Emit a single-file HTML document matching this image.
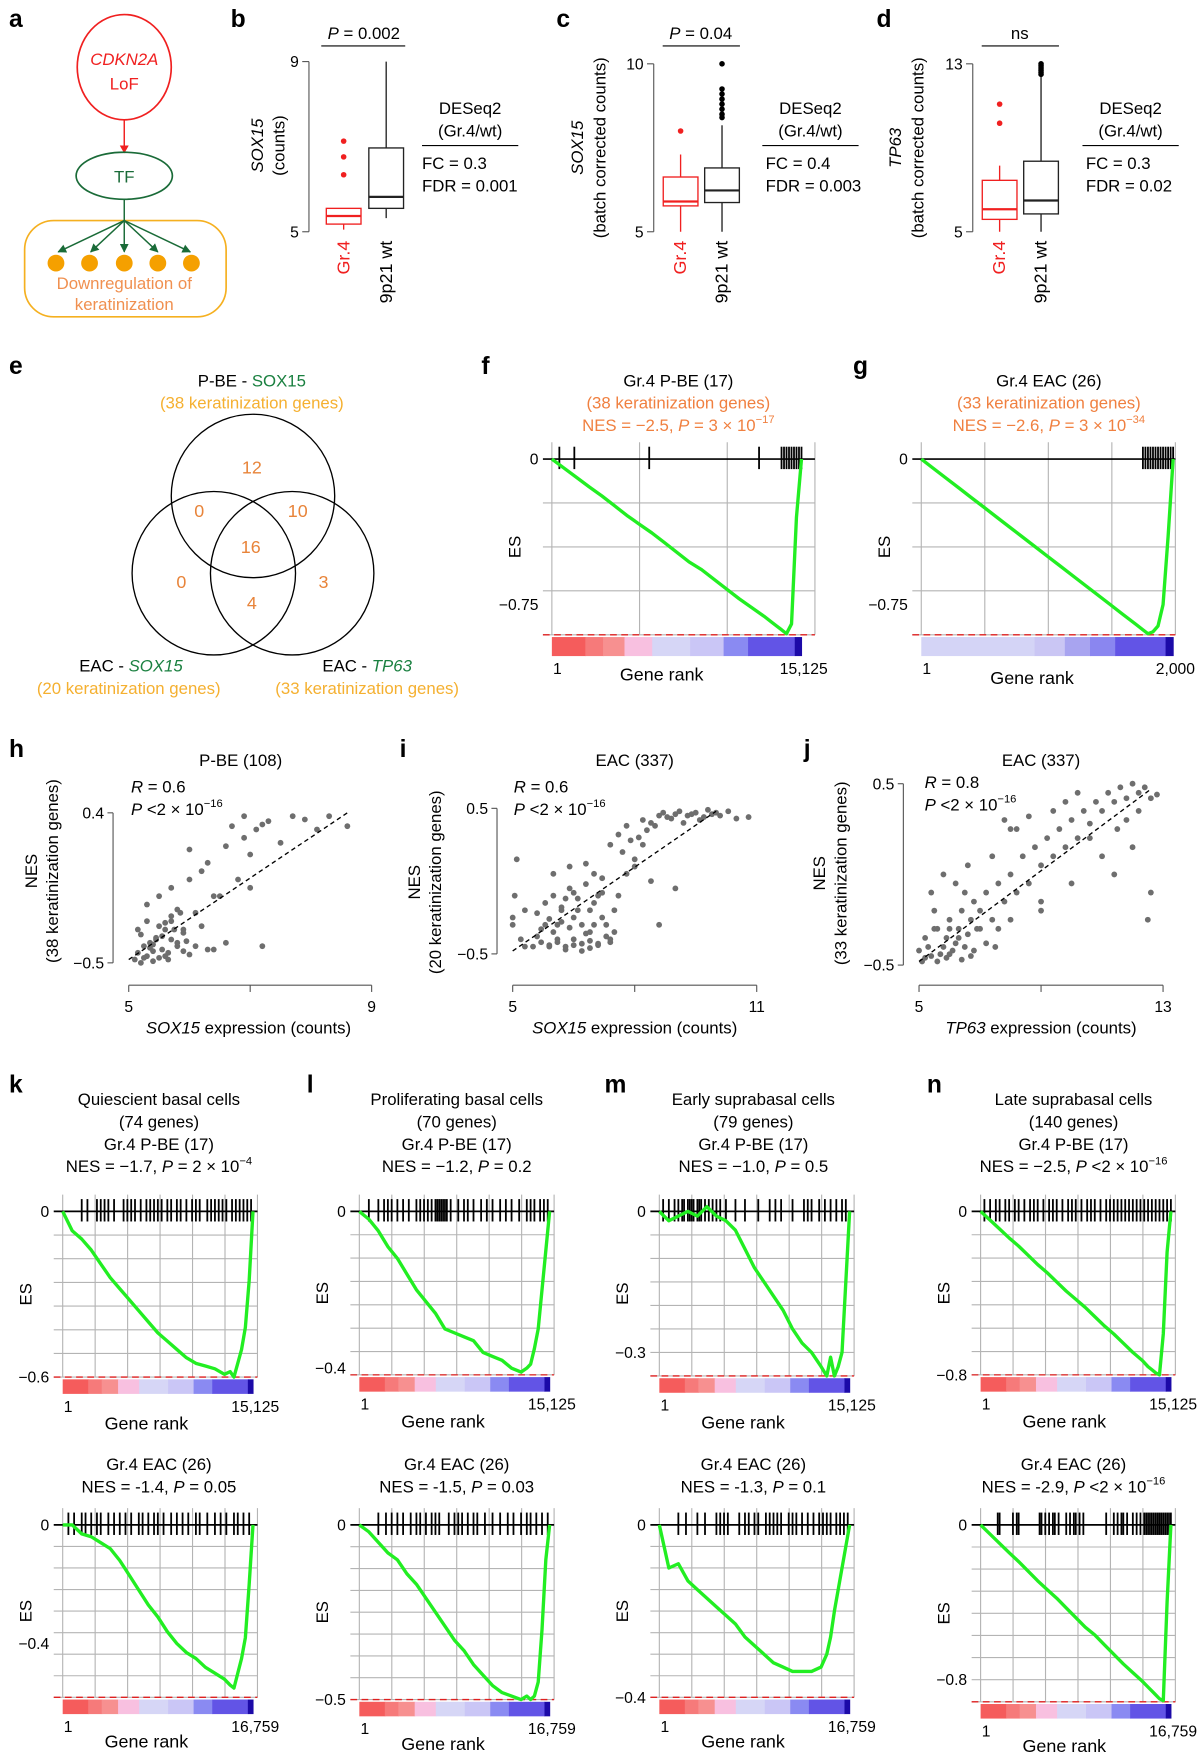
<!DOCTYPE html>
<html><head><meta charset="utf-8"><style>
html,body{margin:0;padding:0;background:#fff}
svg{display:block}
text{font-family:"Liberation Sans",sans-serif}
</style></head><body>
<svg id="fig" xmlns="http://www.w3.org/2000/svg" width="1200" height="1760" viewBox="0 0 1072 1572" preserveAspectRatio="none" font-size="15">
<defs><marker id="ga" viewBox="0 0 10 10" refX="9" refY="5" markerWidth="6" markerHeight="6" orient="auto"><path d="M0,0 L10,5 L0,10 z" fill="#1a6b38"/></marker></defs>
<rect x="0" y="0" width="1072" height="1572" fill="#fff"/>
<g font-weight="bold" font-size="22">
<text x="8" y="24">a</text><text x="206" y="24">b</text><text x="497" y="24">c</text><text x="783" y="24">d</text>
<text x="8" y="334">e</text><text x="430" y="334">f</text><text x="762" y="334">g</text>
<text x="8" y="676">h</text><text x="357" y="676">i</text><text x="718" y="676">j</text>
<text x="8" y="976">k</text><text x="274" y="976">l</text><text x="540" y="976">m</text><text x="828" y="976">n</text>
</g>
<g>
<ellipse cx="111" cy="60" rx="42" ry="47" fill="none" stroke="#f02020" stroke-width="1.5"/>
<text x="111" y="58" text-anchor="middle" fill="#f02020" font-style="italic">CDKN2A</text>
<text x="111" y="80" text-anchor="middle" fill="#f02020">LoF</text>
<line x1="111" y1="107" x2="111" y2="132" stroke="#f02020" stroke-width="1.3"/>
<polygon points="107,130 115,130 111,137" fill="#f02020"/>
<ellipse cx="111" cy="157" rx="43" ry="21" fill="none" stroke="#1a6b38" stroke-width="1.5"/>
<text x="111" y="163" text-anchor="middle" fill="#1a6b38">TF</text>
<rect x="22" y="197" width="180" height="86" rx="26" fill="none" stroke="#f5b020" stroke-width="1.5"/>
<line x1="111" y1="178" x2="111" y2="197" stroke="#1a6b38" stroke-width="1.3"/>
<g stroke="#1a6b38" stroke-width="1.3" marker-end="url(#ga)">
<line x1="111" y1="197" x2="52" y2="225"/><line x1="111" y1="197" x2="81" y2="225"/><line x1="111" y1="197" x2="111" y2="225"/><line x1="111" y1="197" x2="141" y2="225"/><line x1="111" y1="197" x2="170" y2="225"/>
</g>
<g fill="#f5a000">
<circle cx="50" cy="235" r="7.5"/><circle cx="80" cy="235" r="7.5"/><circle cx="111" cy="235" r="7.5"/><circle cx="141" cy="235" r="7.5"/><circle cx="171" cy="235" r="7.5"/>
</g>
<text x="111" y="258" text-anchor="middle" fill="#f09050">Downregulation of</text>
<text x="111" y="277" text-anchor="middle" fill="#f09050">keratinization</text>
</g>
<g>
<text x="325" y="35" text-anchor="middle"><tspan font-style="italic">P</tspan> = 0.002</text>
<line x1="287" y1="41" x2="362" y2="41" stroke="#000"/>
<text transform="translate(235,130) rotate(-90)" text-anchor="middle" font-style="italic">SOX15</text>
<text transform="translate(254,130) rotate(-90)" text-anchor="middle">(counts)</text>
<text x="420" y="102" text-anchor="middle">DESeq2</text><text x="420" y="122" text-anchor="middle">(Gr.4/wt)</text>
<line x1="377" y1="130" x2="463" y2="130" stroke="#000"/>
<text x="377" y="151">FC = 0.3</text><text x="377" y="171">FDR = 0.001</text>
</g>
<g>
<text x="626" y="35" text-anchor="middle"><tspan font-style="italic">P</tspan> = 0.04</text>
<line x1="592" y1="41" x2="661" y2="41" stroke="#000"/>
<text transform="translate(521,132) rotate(-90)" text-anchor="middle" font-style="italic">SOX15</text>
<text transform="translate(541,132) rotate(-90)" text-anchor="middle">(batch corrected counts)</text>
<text x="724" y="102" text-anchor="middle">DESeq2</text><text x="724" y="122" text-anchor="middle">(Gr.4/wt)</text>
<line x1="681" y1="130" x2="767" y2="130" stroke="#000"/>
<text x="684" y="151">FC = 0.4</text><text x="684" y="171">FDR = 0.003</text>
</g>
<g>
<text x="911" y="35" text-anchor="middle">ns</text>
<line x1="877" y1="41" x2="946" y2="41" stroke="#000"/>
<text transform="translate(805,132) rotate(-90)" text-anchor="middle" font-style="italic">TP63</text>
<text transform="translate(825,132) rotate(-90)" text-anchor="middle">(batch corrected counts)</text>
<text x="1010" y="102" text-anchor="middle">DESeq2</text><text x="1010" y="122" text-anchor="middle">(Gr.4/wt)</text>
<line x1="967" y1="130" x2="1053" y2="130" stroke="#000"/>
<text x="970" y="151">FC = 0.3</text><text x="970" y="171">FDR = 0.02</text>
</g>
<g>
<text x="225" y="345" text-anchor="middle">P-BE - <tspan fill="#1a8040">SOX15</tspan></text>
<text x="225" y="365" text-anchor="middle" fill="#f5b030">(38 keratinization genes)</text>
<circle cx="226" cy="443" r="73" fill="none" stroke="#000" stroke-width="1.2"/>
<circle cx="191" cy="512" r="73" fill="none" stroke="#000" stroke-width="1.2"/>
<circle cx="261" cy="512" r="73" fill="none" stroke="#000" stroke-width="1.2"/>
<g fill="#e8843a" text-anchor="middle" font-size="16">
<text x="225" y="423">12</text><text x="178" y="462">0</text><text x="266" y="462">10</text><text x="224" y="494">16</text><text x="162" y="525">0</text><text x="225" y="544">4</text><text x="289" y="525">3</text>
</g>
<text x="117" y="600" text-anchor="middle">EAC - <tspan fill="#1a8040" font-style="italic">SOX15</tspan></text>
<text x="115" y="620" text-anchor="middle" fill="#f5b030">(20 keratinization genes)</text>
<text x="328" y="600" text-anchor="middle">EAC - <tspan fill="#1a8040" font-style="italic">TP63</tspan></text>
<text x="328" y="620" text-anchor="middle" fill="#f5b030">(33 keratinization genes)</text>
</g>
<g text-anchor="middle">
<text x="606" y="345">Gr.4 P-BE (17)</text>
<text x="606" y="365" fill="#f08040">(38 keratinization genes)</text>
<text x="606" y="385" fill="#f08040">NES = −2.5, <tspan font-style="italic">P</tspan> = 3 × 10<tspan dy="-7" font-size="10">−17</tspan></text>
</g>
<g text-anchor="middle">
<text x="937" y="345">Gr.4 EAC (26)</text>
<text x="937" y="365" fill="#f08040">(33 keratinization genes)</text>
<text x="937" y="385" fill="#f08040">NES = −2.6, <tspan font-style="italic">P</tspan> = 3 × 10<tspan dy="-7" font-size="10">−34</tspan></text>
</g>
<g>
<text x="215" y="684" text-anchor="middle">P-BE (108)</text>
<text x="117" y="708"><tspan font-style="italic">R</tspan> = 0.6</text>
<text x="117" y="728"><tspan font-style="italic">P</tspan> &lt;2 × 10<tspan dy="-7" font-size="10">−16</tspan></text>
<text transform="translate(33,778) rotate(-90)" text-anchor="middle">NES</text>
<text transform="translate(52,778) rotate(-90)" text-anchor="middle">(38 keratinization genes)</text>
<text x="222" y="923" text-anchor="middle"><tspan font-style="italic">SOX15</tspan> expression (counts)</text>
</g>
<g>
<text x="567" y="684" text-anchor="middle">EAC (337)</text>
<text x="459" y="708"><tspan font-style="italic">R</tspan> = 0.6</text>
<text x="459" y="728"><tspan font-style="italic">P</tspan> &lt;2 × 10<tspan dy="-7" font-size="10">−16</tspan></text>
<text transform="translate(375,788) rotate(-90)" text-anchor="middle">NES</text>
<text transform="translate(394,788) rotate(-90)" text-anchor="middle">(20 keratinization genes)</text>
<text x="567" y="923" text-anchor="middle"><tspan font-style="italic">SOX15</tspan> expression (counts)</text>
</g>
<g>
<text x="930" y="684" text-anchor="middle">EAC (337)</text>
<text x="826" y="704"><tspan font-style="italic">R</tspan> = 0.8</text>
<text x="826" y="724"><tspan font-style="italic">P</tspan> &lt;2 × 10<tspan dy="-7" font-size="10">−16</tspan></text>
<text transform="translate(737,780) rotate(-90)" text-anchor="middle">NES</text>
<text transform="translate(756,780) rotate(-90)" text-anchor="middle">(33 keratinization genes)</text>
<text x="930" y="923" text-anchor="middle"><tspan font-style="italic">TP63</tspan> expression (counts)</text>
</g>
<g text-anchor="middle">
<text x="142" y="987">Quiescient basal cells</text><text x="142" y="1007">(74 genes)</text><text x="142" y="1027">Gr.4 P-BE (17)</text>
<text x="142" y="1047">NES = −1.7, <tspan font-style="italic">P</tspan> = 2 × 10<tspan dy="-7" font-size="10">−4</tspan></text>
<text x="142" y="1313">Gr.4 EAC (26)</text><text x="142" y="1333">NES = -1.4, <tspan font-style="italic">P</tspan> = 0.05</text>
</g>
<g text-anchor="middle">
<text x="408" y="987">Proliferating basal cells</text><text x="408" y="1007">(70 genes)</text><text x="408" y="1027">Gr.4 P-BE (17)</text>
<text x="408" y="1047">NES = −1.2, <tspan font-style="italic">P</tspan> = 0.2</text>
<text x="408" y="1313">Gr.4 EAC (26)</text><text x="408" y="1333">NES = -1.5, <tspan font-style="italic">P</tspan> = 0.03</text>
</g>
<g text-anchor="middle">
<text x="673" y="987">Early suprabasal cells</text><text x="673" y="1007">(79 genes)</text><text x="673" y="1027">Gr.4 P-BE (17)</text>
<text x="673" y="1047">NES = −1.0, <tspan font-style="italic">P</tspan> = 0.5</text>
<text x="673" y="1313">Gr.4 EAC (26)</text><text x="673" y="1333">NES = -1.3, <tspan font-style="italic">P</tspan> = 0.1</text>
</g>
<g text-anchor="middle">
<text x="959" y="987">Late suprabasal cells</text><text x="959" y="1007">(140 genes)</text><text x="959" y="1027">Gr.4 P-BE (17)</text>
<text x="959" y="1047">NES = −2.5, <tspan font-style="italic">P</tspan> &lt;2 × 10<tspan dy="-7" font-size="10">−16</tspan></text>
<text x="959" y="1313">Gr.4 EAC (26)</text><text x="959" y="1333">NES = -2.9, <tspan font-style="italic">P</tspan> &lt;2 × 10<tspan dy="-7" font-size="10">−16</tspan></text>
</g>
<g id="dyn"></g>
</svg>
<script>
var boxGroups = ['Gr.4', '9p21 wt'];
var bStats = [[5.05, 5.18, 5.37, 5.55, 5.55], [5.32, 5.55, 5.82, 6.97, 9.0]];
var bOutliers = [[6.34, 6.76, 7.13], []];
var bTicks = [5, 9];
var cStats = [[5.0, 5.77, 5.9, 6.63, 7.3], [5.0, 5.87, 6.23, 6.9, 8.17]];
var cOutliers = [[8.0], [8.4, 8.5, 8.65, 8.8, 8.95, 9.1, 9.25, 10.0]];
var cTicks = [5, 10];
var dStats = [[5.0, 5.59, 6.07, 7.45, 8.15], [5.0, 5.85, 6.49, 8.36, 12.41]];
var dOutliers = [[10.17, 11.08], [12.5, 12.6, 12.7, 12.8, 12.9, 13.0]];
var dTicks = [5, 13];
var hX = [5.1,5.15,5.2,5.25,5.3,5.35,5.4,5.45,5.5,5.55,5.6,5.65,5.7,5.8,5.9,6.0,5.2,5.3,5.4,5.5,5.6,5.7,5.8,5.9,6.1,6.3,5.15,5.25,5.35,5.45,5.55,5.65,5.75,5.85,5.95,6.2,6.4,6.6,5.3,5.5,5.7,5.9,6.1,6.5,6.8,7.0,7.2,6.3,6.0,5.8,5.6,5.4,6.2,6.6,6.9,7.1,7.3,7.5,7.7,7.9,8.1,8.3,8.6,6.7,6.9,7.2,7.0,6.4,6.0,5.7];
var hY = [-0.48,-0.44,-0.5,-0.4,-0.46,-0.38,-0.43,-0.35,-0.47,-0.42,-0.3,-0.44,-0.36,-0.4,-0.32,-0.45,-0.33,-0.25,-0.49,-0.28,-0.46,-0.22,-0.38,-0.43,-0.4,-0.42,-0.3,-0.47,-0.41,-0.36,-0.34,-0.48,-0.3,-0.2,-0.37,-0.28,-0.42,-0.38,-0.15,-0.1,-0.05,-0.3,-0.2,-0.1,0.0,-0.05,-0.4,0.1,0.18,-0.18,-0.26,-0.39,0.05,0.2,0.25,0.3,0.35,0.22,0.38,0.36,0.3,0.38,0.32,0.32,0.38,0.33,0.15,-0.1,0.0,-0.25];
var hXTicks = [5, 7, 9], hXLabels = ['5', '', '9'], hYTicks = [-0.5, 0.4];
var iX = [5.0,5.05,5.1,5.0,5.2,5.3,5.5,5.6,5.7,5.8, 5.9,6.0,6.1,6.2,6.3,6.4,6.5,6.6,6.7,6.8, 6.9,7.0,7.1,7.2,7.3,7.4,5.6,5.8,6.0,6.2, 6.4,6.6,6.8,7.0,7.2,5.7,5.9,6.1,6.3,6.5, 6.7,6.9,7.1,7.3,7.5,5.9,6.1,6.3,6.5,6.7, 6.9,7.1,6.0,6.4,6.8,7.2,7.6,7.8,8.0,7.5, 7.7,7.9,8.1,8.3,7.4,7.6,7.8,8.2,8.4,8.6, 8.8,9.0,8.5,8.7,8.9,9.1,9.3,9.5,9.7,9.9, 10.1,10.3,10.5,10.8,9.2,9.4,9.6,9.8,10.0,8.0, 8.2,8.4,7.0,6.5,6.2,6.9,7.4,8.6,9.0,5.3];
var iY = [-0.3,-0.1,0.15,-0.25,-0.4,-0.2,-0.45,-0.38,-0.42,-0.3, -0.44,-0.35,-0.4,-0.28,-0.45,-0.32,-0.4,-0.2,-0.43,-0.36, -0.41,-0.3,-0.44,-0.25,-0.38,-0.42,-0.22,-0.15,-0.1,-0.18, -0.05,-0.12,-0.02,-0.15,-0.08,-0.33,-0.26,-0.3,-0.12,-0.25, -0.3,-0.2,-0.1,-0.3,-0.2,-0.45,-0.42,-0.47,-0.44,-0.48, -0.46,-0.43,0.05,0.1,0.12,0.02,-0.1,0.05,0.15,-0.35, 0.2,0.28,0.3,0.35,0.25,0.32,0.38,0.42,0.4,0.45, 0.44,0.46,0.38,0.47,0.43,0.48,0.45,0.47,0.44,0.46, 0.45,0.48,0.43,0.44,0.4,0.46,0.42,0.49,0.47,0.1, 0.25,0.0,0.05,-0.08,-0.2,-0.35,-0.4,-0.3,-0.05,-0.45];
var iXTicks = [5, 8, 11], iXLabels = ['5', '', '11'], iYTicks = [-0.5, 0.5];
var jX = [5.0,5.2,5.4,5.6,5.8,6.0,6.2,6.4,6.6,6.8, 5.1,5.3,5.5,5.7,5.9,6.1,6.3,6.5,6.7,6.9, 7.0,7.2,7.4,7.6,7.8,8.0,8.2,8.4,8.6,8.8, 9.0,9.2,9.4,9.6,9.8,10.0,10.2,10.4,10.6,10.8, 11.0,11.2,11.4,11.6,11.8,12.0,12.2,12.4,12.6,12.8, 5.4,5.8,6.2,6.6,7.0,7.4,7.8,8.2,8.6,9.0, 9.4,9.8,10.2,10.6,11.0,11.4,11.8,12.2,12.6,12.5, 5.2,5.6,6.0,6.4,6.8,7.2,7.6,8.0,5.5,6.5, 10.0,9.0,8.0,11.5,12.0,7.5,6.0,5.9,6.3,6.7];
var jY = [-0.42,-0.35,-0.45,-0.3,-0.4,-0.25,-0.38,-0.2,-0.33,-0.15, -0.48,-0.4,-0.3,-0.44,-0.35,-0.42,-0.3,-0.4,-0.25,-0.3, -0.2,-0.1,-0.25,-0.05,-0.15,0.0,-0.1,0.1,-0.05,0.15, 0.05,0.2,0.1,0.25,0.15,0.3,0.2,0.35,0.28,0.4, 0.35,0.45,0.4,0.48,0.42,0.5,0.45,0.48,0.42,0.44, -0.1,0.0,-0.05,0.05,-0.3,0.1,0.3,0.25,0.32,-0.2, 0.35,0.4,0.45,0.2,0.1,0.0,0.3,0.35,-0.1,-0.25, -0.46,-0.48,-0.44,-0.47,-0.42,-0.38,-0.3,-0.25,-0.2,-0.1, -0.05,-0.15,0.25,0.25,0.15,-0.4,-0.3,-0.46,-0.35,-0.45];
var jXTicks = [5, 9, 13], jXLabels = ['5', '', '13'], jYTicks = [-0.5, 0.5];
var hFit = [[5, -0.48], [8.6, 0.4]], iFit = [[5, -0.48], [10, 0.48]], jFit = [[5, -0.48], [12.6, 0.47]];
var rankFrac = [0,0.05,0.1,0.15,0.2,0.25,0.3,0.35,0.4,0.45,0.5,0.55,0.6,0.65,0.7,0.75,0.8,0.85,0.88,0.9,0.92,0.94,0.96,0.98,1];
var esF = [0,-.048,-.096,-.144,-.19,-.24,-.29,-.335,-.38,-.43,-.48,-.53,-.57,-.62,-.67,-.72,-.765,-.81,-.84,-.86,-.88,-.9,-.85,-.3,0];
var esG = [0,-.05,-.1,-.15,-.2,-.25,-.3,-.35,-.4,-.45,-.5,-.55,-.6,-.65,-.7,-.75,-.8,-.85,-.88,-.9,-.89,-.86,-.75,-.4,0];
var esK1 = [0,-.07,-.1,-.14,-.19,-.24,-.28,-.32,-.36,-.4,-.44,-.47,-.5,-.53,-.55,-.56,-.57,-.59,-.58,-.6,-.55,-.5,-.42,-.25,0];
var esL1 = [0,-.02,-.05,-.09,-.12,-.16,-.2,-.23,-.26,-.3,-.31,-.32,-.33,-.36,-.37,-.38,-.4,-.41,-.4,-.39,-.35,-.3,-.2,-.1,0];
var esM1 = [0,-.02,-.01,0,-.01,.01,-.01,-.02,-.04,-.08,-.12,-.15,-.18,-.21,-.25,-.28,-.3,-.33,-.35,-.31,-.35,-.33,-.3,-.15,0];
var esN1 = [0,-.043,-.086,-.13,-.17,-.215,-.26,-.3,-.345,-.39,-.43,-.47,-.515,-.56,-.6,-.645,-.69,-.73,-.76,-.775,-.79,-.8,-.6,-.2,0];
var esK2 = [0,0,-.03,-.04,-.06,-.08,-.12,-.17,-.22,-.27,-.31,-.36,-.4,-.43,-.45,-.48,-.5,-.52,-.54,-.55,-.5,-.45,-.38,-.2,0];
var esL2 = [0,-.02,-.05,-.08,-.1,-.14,-.17,-.21,-.25,-.29,-.33,-.36,-.4,-.43,-.46,-.48,-.49,-.5,-.49,-.5,-.49,-.45,-.3,-.1,0];
var esM2 = [0,-.1,-.09,-.13,-.15,-.17,-.19,-.21,-.23,-.26,-.28,-.3,-.32,-.33,-.34,-.34,-.34,-.33,-.3,-.26,-.2,-.15,-.1,-.05,0];
var esN2 = [0,-.048,-.096,-.144,-.19,-.24,-.29,-.335,-.38,-.43,-.48,-.53,-.57,-.62,-.67,-.72,-.765,-.81,-.84,-.86,-.88,-.9,-.91,-.4,0];
var hitsF = [0.03,0.09,0.39,0.83,0.92,0.93,0.94,0.95,0.96,0.97,0.98,0.99,1.0];
var hitsG = [0.88,0.89,0.9,0.91,0.92,0.93,0.94,0.95,0.96,0.97,0.98,0.99,1.0];
var hitsK1 = [0.1,0.13,0.18,0.2,0.22,0.24,0.27,0.32,0.34,0.36,0.38,0.41,0.44,0.46,0.48,0.5,0.52,0.55,0.57,0.6,0.62,0.65,0.68,0.7,0.72,0.76,0.78,0.8,0.82,0.84,0.86,0.89,0.91,0.93,0.95,0.97,0.99];
var hitsL1 = [0.05,0.1,0.13,0.15,0.17,0.2,0.23,0.26,0.3,0.32,0.34,0.36,0.38,0.4,0.41,0.42,0.43,0.44,0.45,0.46,0.48,0.52,0.55,0.57,0.6,0.64,0.67,0.7,0.74,0.77,0.8,0.84,0.88,0.9,0.92,0.95,0.97,0.99];
var hitsM1 = [0.02,0.05,0.08,0.1,0.12,0.13,0.15,0.16,0.17,0.18,0.2,0.21,0.22,0.24,0.26,0.28,0.3,0.32,0.35,0.4,0.45,0.52,0.58,0.61,0.64,0.7,0.76,0.78,0.8,0.84,0.87,0.9,0.93,0.96,0.98];
var hitsN1 = [0.02,0.05,0.08,0.1,0.13,0.15,0.18,0.2,0.23,0.26,0.28,0.3,0.33,0.36,0.38,0.4,0.43,0.46,0.48,0.5,0.53,0.56,0.58,0.6,0.63,0.66,0.68,0.7,0.72,0.74,0.76,0.78,0.8,0.82,0.84,0.86,0.88,0.9,0.92,0.94,0.96,0.98,1.0];
var hitsK2 = [0.03,0.06,0.1,0.12,0.15,0.18,0.2,0.24,0.27,0.3,0.33,0.36,0.4,0.42,0.45,0.48,0.5,0.53,0.57,0.6,0.63,0.66,0.7,0.72,0.76,0.8,0.83,0.86,0.9,0.92,0.95,0.98];
var hitsL2 = [0.1,0.14,0.17,0.2,0.23,0.27,0.3,0.32,0.35,0.38,0.4,0.42,0.47,0.5,0.52,0.54,0.57,0.6,0.62,0.66,0.7,0.74,0.78,0.81,0.85,0.88,0.9,0.93,0.96,0.99];
var hitsM2 = [0.1,0.14,0.2,0.24,0.3,0.32,0.34,0.36,0.42,0.45,0.47,0.5,0.52,0.56,0.58,0.6,0.62,0.64,0.68,0.7,0.72,0.75,0.78,0.81,0.84,0.86,0.88,0.9,0.93,0.95,0.97,0.99];
var hitsN2 = [0.09,0.1,0.17,0.19,0.2,0.31,0.32,0.34,0.36,0.38,0.39,0.41,0.45,0.47,0.49,0.5,0.52,0.54,0.66,0.7,0.72,0.74,0.75,0.77,0.8,0.82,0.84,0.86,0.87,0.88,0.89,0.9,0.91,0.92,0.93,0.94,0.95,0.96,0.97,0.98,0.99,1.0];
var barFracs = [0.134,0.071,0.086,0.111,0.152,0.134,0.098,0.187,0.027];
var barColors = ['#f55c5c','#f67a7a','#f79090','#f8c0e0','#d6d6f6','#cac6f6','#8a8af2','#6254e6','#1c0aa8'];
var barFracsG = [0.45,0.12,0.1,0.1,0.2,0.03];
var barColorsG = ['#d4d4f6','#cac6f4','#a8a4f0','#8a86f0','#6254e6','#1c0aa8'];

var NS = 'http://www.w3.org/2000/svg';
var root = document.getElementById('dyn');
function mk(tag, at, parent) {
  var e = document.createElementNS(NS, tag);
  for (var k in at) e.setAttribute(k, at[k]);
  (parent || root).appendChild(e);
  return e;
}
function lin(d0, d1, r0, r1) { return function (v) { return r0 + (v - d0) * (r1 - r0) / (d1 - d0); }; }

function boxplot(name, stats, outs, ticks, axisX, y0, y1, xs) {
  var y = lin(ticks[0], ticks[1], y0, y1);
  var g = mk('g', {});
  
  
  var ax = mk('line', {x1: axisX, y1: y(ticks[0]), x2: axisX, y2: y(ticks[1]), stroke: '#555'}, g);
  
  
  ticks.forEach(function (t) {
    mk('line', {x1: axisX - 6, y1: y(t), x2: axisX, y2: y(t), stroke: '#555'}, g);
    var tl = mk('text', {x: axisX - 9, y: y(t) + 5, 'text-anchor': 'end', 'font-size': 14}, g);
    tl.textContent = t;
    
    
  });
  stats.forEach(function (s, i) {
    var col = i === 0 ? '#f02020' : '#222';
    var cx = xs[i], w = 31;
    var wl = mk('line', {x1: cx, y1: y(s[0]), x2: cx, y2: y(s[4]), stroke: col, 'stroke-width': 1.2}, g);
    
    
    var bx = mk('rect', {x: cx - w / 2, y: y(s[3]), width: w, height: y(s[1]) - y(s[3]), fill: '#fff', stroke: col, 'stroke-width': 1.2}, g);
    
    
    var md = mk('line', {x1: cx - w / 2, y1: y(s[2]), x2: cx + w / 2, y2: y(s[2]), stroke: col, 'stroke-width': 2}, g);
    
    
    outs[i].forEach(function (o) {
      var c = mk('circle', {cx: cx, cy: y(o), r: 2.5, fill: i === 0 ? '#f02020' : '#000'}, g);
      
      
    });
    var lb = mk('text', {transform: 'translate(' + (cx + 5) + ',' + (y0 + 8) + ') rotate(-90)', 'text-anchor': 'end', fill: i === 0 ? '#f02020' : '#000', 'font-size': 16}, g);
    lb.textContent = boxGroups[i];
    
    
  });
}
boxplot('panel-b-boxplot', bStats, bOutliers, bTicks, 276, 207, 55, [307, 345]);
boxplot('panel-c-boxplot', cStats, cOutliers, cTicks, 584, 207, 57, [608, 645]);
boxplot('panel-d-boxplot', dStats, dOutliers, dTicks, 869, 207, 57, [893, 930]);

function scatter(name, X, Y, xT, xL, yT, fit, xr, yr) {
  var x = lin(xT[0], xT[2], xr[0], xr[1]);
  var y = lin(yT[0], yT[1], yr[0], yr[1]);
  var g = mk('g', {});
  
  
  var xa = mk('line', {x1: xr[0], y1: 880, x2: xr[1], y2: 880, stroke: '#555'}, g);
  
  
  xT.forEach(function (t, i) {
    mk('line', {x1: x(t), y1: 880, x2: x(t), y2: 886, stroke: '#555'}, g);
    var tl = mk('text', {x: x(t), y: 904, 'text-anchor': 'middle', 'font-size': 14}, g);
    tl.textContent = xL[i];
    
    
  });
  var ax0 = xr[0] - 14;
  var ya = mk('line', {x1: ax0, y1: yr[0], x2: ax0, y2: yr[1], stroke: '#555'}, g);
  
  
  yT.forEach(function (t) {
    mk('line', {x1: ax0 - 5, y1: y(t), x2: ax0, y2: y(t), stroke: '#555'}, g);
    var tl = mk('text', {x: ax0 - 8, y: y(t) + 5, 'text-anchor': 'end', 'font-size': 14}, g);
    tl.textContent = (t < 0 ? '−' : '') + Math.abs(t);
    
    
  });
  X.forEach(function (v, i) {
    var c = mk('circle', {cx: x(v), cy: y(Y[i]), r: 2.6, fill: '#6e6e6e'}, g);
    
    
  });
  var fl = mk('line', {x1: x(fit[0][0]), y1: y(fit[0][1]), x2: x(fit[1][0]), y2: y(fit[1][1]), stroke: '#000', 'stroke-dasharray': '4,3', 'stroke-width': 1.2}, g);
  
  
}
scatter('panel-h-scatter', hX, hY, hXTicks, hXLabels, hYTicks, hFit, [115, 332], [860, 726]);
scatter('panel-i-scatter', iX, iY, iXTicks, iXLabels, iYTicks, iFit, [458, 676], [852, 722]);
scatter('panel-j-scatter', jX, jY, jXTicks, jXLabels, jYTicks, jFit, [821, 1039], [862, 700]);

function gsea(name, es, hits, o) {
  var g = mk('g', {});
  
  
  var x = lin(0, 1, o.x0, o.x0 + o.bw);
  var y = lin(0, o.tv, o.zy, o.ty);
  var top = o.zy - 15, bot = o.by;
  for (var i = 0; i < o.nv; i++) {
    var gx = o.x0 + i * o.gw / (o.nv - 1);
    mk('line', {x1: gx, y1: top, x2: gx, y2: bot, stroke: '#b4b4b4', 'stroke-width': 1}, g);
  }
  for (var j = 1; j <= o.nh; j++) {
    var gy = o.zy + j * (bot - o.zy) / o.nh;
    mk('line', {x1: o.x0 - 8, y1: gy, x2: o.x0 + o.gw, y2: gy, stroke: '#b4b4b4', 'stroke-width': 1}, g);
  }
  var dl = mk('line', {x1: o.x0 - 8, y1: bot, x2: o.x0 + o.gw, y2: bot, stroke: '#e02020', 'stroke-dasharray': '6,4', 'stroke-width': 1.2}, g);
  
  
  var zl = mk('line', {x1: o.x0 - 8, y1: o.zy, x2: o.x0 + o.gw, y2: o.zy, stroke: '#000', 'stroke-width': 1.5}, g);
  
  
  hits.forEach(function (h) {
    var t = mk('line', {x1: x(h), y1: o.zy - 11, x2: x(h), y2: o.zy + 9, stroke: '#000', 'stroke-width': 1.6}, g);
    
    
  });
  var d = es.map(function (v, i) { return (i ? 'L' : 'M') + x(rankFrac[i]).toFixed(1) + ',' + y(v).toFixed(1); }).join('');
  var p = mk('path', {d: d, fill: 'none', stroke: '#22ee22', 'stroke-width': 3, 'stroke-linejoin': 'round'}, g);
  
  
  var cx = o.x0, fr = o.fracs || barFracs, cl = o.cols || barColors;
  fr.forEach(function (f, i) {
    var r = mk('rect', {x: cx, y: bot + 2, width: f * o.bw + 0.5, height: o.bh, fill: cl[i]}, g);
    
    
    cx += f * o.bw;
  });
  var ly = bot + o.bh + 18;
  var t1 = mk('text', {x: o.x0 + 1, y: ly, 'font-size': 14}, g);
  t1.textContent = '1';
  
  
  var t2 = mk('text', {x: o.x0 + o.bw + 2, y: ly, 'font-size': 14, 'text-anchor': 'middle'}, g);
  t2.textContent = o.maxLabel;
  
  
  var xl = mk('text', {x: o.x0 + o.bw * 0.44, y: ly + o.gap, 'text-anchor': 'middle', 'font-size': 16}, g);
  xl.textContent = 'Gene rank';
  
  
  var z = mk('text', {x: o.x0 - 12, y: o.zy + 5, 'text-anchor': 'end', 'font-size': 14}, g);
  z.textContent = '0';
  
  
  var m = mk('text', {x: o.x0 - 12, y: o.ty + 5, 'text-anchor': 'end', 'font-size': 14}, g);
  m.textContent = '−' + Math.abs(o.tv);
  
  
  var yl = mk('text', {transform: 'translate(' + (o.x0 - 28) + ',' + ((o.zy + bot) / 2) + ') rotate(-90)', 'text-anchor': 'middle', 'font-size': 15}, g);
  yl.textContent = 'ES';
  
  
}
gsea('panel-f-gsea', esF, hitsF, {x0: 493, bw: 223, gw: 235, nv: 4, nh: 4, zy: 410, tv: -0.75, ty: 540, by: 567, bh: 17, maxLabel: '15,125', gap: 6});
gsea('panel-g-gsea', esG, hitsG, {x0: 823, bw: 225, gw: 227, nv: 5, nh: 4, zy: 410, tv: -0.75, ty: 540, by: 567, bh: 17, maxLabel: '2,000', gap: 9, fracs: barFracsG, cols: barColorsG});
var colX = [56, 321, 589, 876];
var row1 = [[esK1, hitsK1, -0.6, 1230, 1230], [esL1, hitsL1, -0.4, 1222, 1228], [esM1, hitsM1, -0.3, 1208, 1229], [esN1, hitsN1, -0.8, 1228, 1228]];
var row2 = [[esK2, hitsK2, -0.4, 1468, 1516], [esL2, hitsL2, -0.5, 1518, 1518], [esM2, hitsM2, -0.4, 1516, 1516], [esN2, hitsN2, -0.8, 1500, 1520]];
var names = ['k', 'l', 'm', 'n'];
row1.forEach(function (r, i) {
  gsea('panel-' + names[i] + '-pbe-gsea', r[0], r[1], {x0: colX[i], bw: 170, gw: 174, nv: 7, nh: 7, zy: 1082, tv: r[2], ty: r[3], by: r[4], bh: 13, maxLabel: '15,125', gap: 16});
});
row2.forEach(function (r, i) {
  gsea('panel-' + names[i] + '-eac-gsea', r[0], r[1], {x0: colX[i], bw: 170, gw: 174, nv: 7, nh: 8, zy: 1362, tv: r[2], ty: r[3], by: r[4], bh: 13, maxLabel: '16,759', gap: 14});
});
</script>
</body></html>
